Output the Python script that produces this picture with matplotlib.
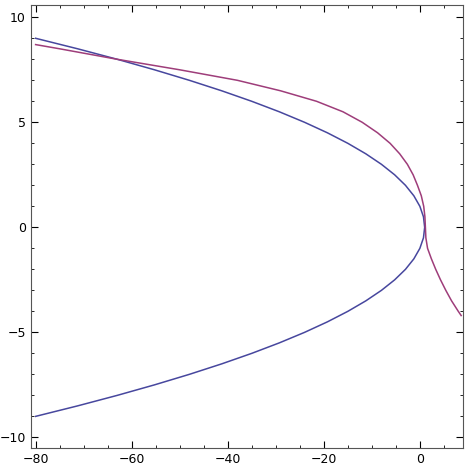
import matplotlib
matplotlib.use("Agg")
import matplotlib.pyplot as plt
from matplotlib.ticker import MultipleLocator

blue_y = [-9,-8.5,-8,-7.5,-7,-6.5,-6,-5.5,-5,-4.5,-4,-3.5,-3,-2.5,-2,-1.5,-1,-0.5,0,
          0.5,1,1.5,2,2.5,3,3.5,4,4.5,5,5.5,6,6.5,7,7.5,8,8.5,9]
blue_x = [-80,-71.25,-63,-55.25,-48,-41.25,-35,-29.25,-24,-19.25,-15,-11.25,-8,-5.25,-3,-1.25,0,0.75,1,
          0.75,0,-1.25,-3,-5.25,-8,-11.25,-15,-19.25,-24,-29.25,-35,-41.25,-48,-55.25,-63,-71.25,-80]
red_y = [8.7,8.5,8,7.5,7,6.5,6,5.5,5,4.5,4,3.5,3,2.5,2,1.5,1,0.5,0,-0.5,-1,-1.5,-2,-2.5,-3,-3.5,-4,-4.2]
red_x = [-80,-75,-63,-50,-38,-29,-21.5,-16,-12,-8.8,-6.2,-4.2,-2.6,-1.4,-0.5,0.3,0.8,1.05,1.15,1.25,1.6,2.4,3.3,4.3,5.4,6.6,8,8.6]

fig = plt.figure(figsize=(4.74, 4.68), dpi=100)
ax = fig.add_axes([0.065, 0.043, 0.912, 0.947])
ax.plot(blue_x, blue_y, color=(0.28, 0.28, 0.62), lw=1.1)
ax.plot(red_x, red_y, color=(0.62, 0.24, 0.48), lw=1.1)
ax.set_xlim(-81, 9)
ax.set_ylim(-10.5, 10.6)
ax.xaxis.set_major_locator(MultipleLocator(20))
ax.xaxis.set_minor_locator(MultipleLocator(5))
ax.yaxis.set_major_locator(MultipleLocator(5))
ax.yaxis.set_minor_locator(MultipleLocator(1))
ax.tick_params(which='both', direction='in', top=True, right=True, labelsize=9)
ax.tick_params(which='major', length=5)
ax.tick_params(which='minor', length=2.5)
for s in ax.spines.values():
    s.set_color('#555555')
fig.savefig("out.png", dpi=100)
